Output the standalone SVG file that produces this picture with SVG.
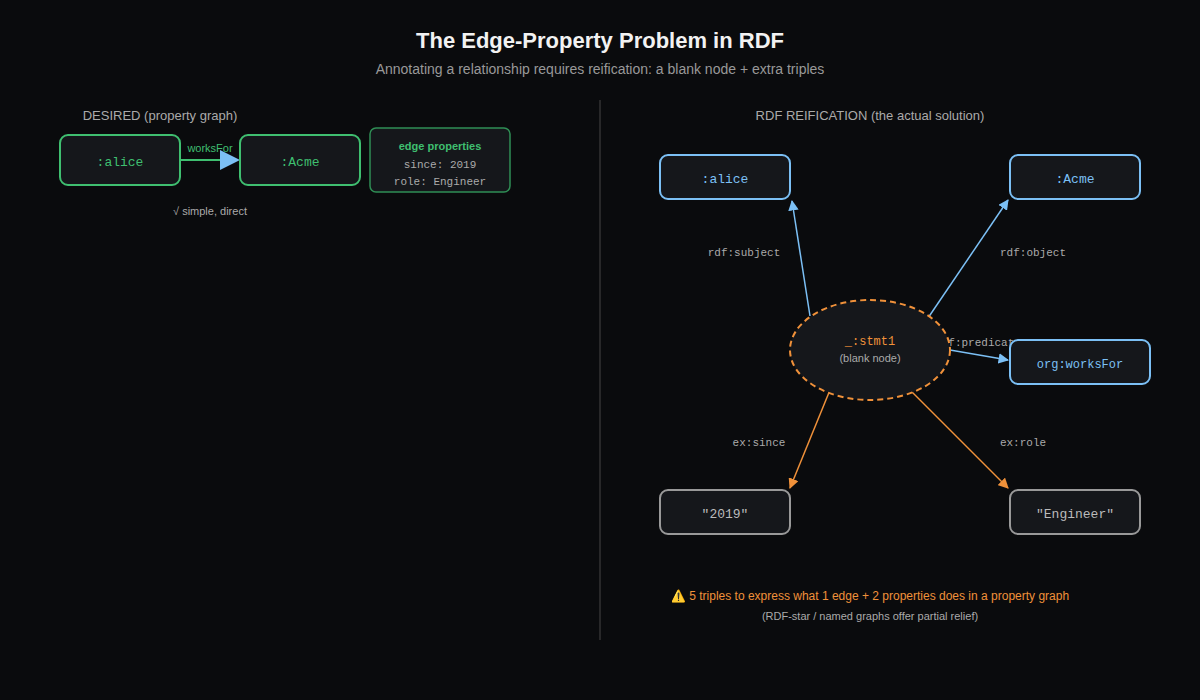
<svg xmlns="http://www.w3.org/2000/svg" width="1200" height="700" viewBox="0 0 1200 700">
<style>
.sans{font-family:"Liberation Sans",Arial,sans-serif}
.mono{font-family:"Liberation Mono","DejaVu Sans Mono",monospace}
.box{fill:#15171b;stroke-width:2}
.g{stroke:#3fbf70}.b{stroke:#7cc0f5}.w{stroke:#999}
.lbl{font-size:11px;fill:#aaa}
</style>
<defs>
<marker id="ab" viewBox="0 0 10 10" refX="9" refY="5" markerWidth="7" markerHeight="7" orient="auto"><path d="M0,0L10,5L0,10z" fill="#7cc0f5"/></marker>
<marker id="ab2" viewBox="0 0 10 10" refX="9" refY="5" markerWidth="10" markerHeight="10" orient="auto"><path d="M0,0L10,5L0,10z" fill="#7cc0f5"/></marker>
<marker id="ao" viewBox="0 0 10 10" refX="9" refY="5" markerWidth="7" markerHeight="7" orient="auto"><path d="M0,0L10,5L0,10z" fill="#f0913a"/></marker>
</defs>
<rect width="1200" height="700" fill="#0a0b0d"/>
<text x="600" y="48" text-anchor="middle" class="sans" font-size="22" font-weight="bold" fill="#f2f2f2">The Edge-Property Problem in RDF</text>
<text x="600" y="74" text-anchor="middle" class="sans" font-size="14" fill="#999">Annotating a relationship requires reification: a blank node + extra triples</text>
<line x1="600" y1="100" x2="600" y2="640" stroke="#333" stroke-width="1.5"/>
<text x="160" y="120" text-anchor="middle" class="sans" font-size="13" fill="#aaa">DESIRED (property graph)</text>
<text x="870" y="120" text-anchor="middle" class="sans" font-size="13" fill="#aaa">RDF REIFICATION (the actual solution)</text>
<g id="connectors">
<line x1="180" y1="160" x2="238" y2="160" stroke="#3fbf70" stroke-width="2" marker-end="url(#ab2)"/>
<text x="210" y="152" text-anchor="middle" class="sans" font-size="11" fill="#3fbf70">worksFor</text>
<line x1="810" y1="316" x2="792" y2="201" stroke="#7cc0f5" stroke-width="1.5" marker-end="url(#ab)"/>
<line x1="928" y1="318" x2="1008" y2="200" stroke="#7cc0f5" stroke-width="1.5" marker-end="url(#ab)"/>
<line x1="950" y1="350" x2="1008" y2="360" stroke="#7cc0f5" stroke-width="1.5" marker-end="url(#ab)"/>
<line x1="830" y1="390" x2="790" y2="488" stroke="#f0913a" stroke-width="1.5" marker-end="url(#ao)"/>
<line x1="910" y1="390" x2="1008" y2="488" stroke="#f0913a" stroke-width="1.5" marker-end="url(#ao)"/>
<text x="744" y="256" text-anchor="middle" class="mono lbl">rdf:subject</text>
<text x="1033" y="256" text-anchor="middle" class="mono lbl">rdf:object</text>
<text x="978" y="346" text-anchor="middle" class="mono lbl">rdf:predicate</text>
<text x="759" y="446" text-anchor="middle" class="mono lbl">ex:since</text>
<text x="1023" y="446" text-anchor="middle" class="mono lbl">ex:role</text>
</g>
<g id="pg-alice"><rect x="60" y="135" width="120" height="50" rx="8" class="box g"/><text x="120" y="166" text-anchor="middle" class="mono" font-size="13" fill="#3fbf70">:alice</text></g>
<g id="pg-acme"><rect x="240" y="135" width="120" height="50" rx="8" class="box g"/><text x="300" y="166" text-anchor="middle" class="mono" font-size="13" fill="#3fbf70">:Acme</text></g>
<g id="pg-props"><rect x="370" y="128" width="140" height="64" rx="6" fill="#15171b" stroke="#2f8f55" stroke-width="1.5"/>
<text x="440" y="150" text-anchor="middle" class="sans" font-size="11" font-weight="bold" fill="#3fbf70">edge properties</text>
<text x="440" y="168" text-anchor="middle" class="mono" font-size="11" fill="#aaa">since: 2019</text>
<text x="440" y="185" text-anchor="middle" class="mono" font-size="11" fill="#aaa">role: Engineer</text></g>
<text x="210" y="215" text-anchor="middle" class="sans" font-size="11" fill="#aaa">√ simple, direct</text>
<g id="alice"><rect x="660" y="155" width="130" height="44" rx="8" class="box b"/><text x="725" y="183" text-anchor="middle" class="mono" font-size="13" fill="#7cc0f5">:alice</text></g>
<g id="acme"><rect x="1010" y="155" width="130" height="44" rx="8" class="box b"/><text x="1075" y="183" text-anchor="middle" class="mono" font-size="13" fill="#7cc0f5">:Acme</text></g>
<g id="worksFor"><rect x="1010" y="340" width="140" height="44" rx="8" class="box b"/><text x="1080" y="368" text-anchor="middle" class="mono" font-size="12" fill="#7cc0f5">org:worksFor</text></g>
<g id="stmt"><ellipse cx="870" cy="350" rx="80" ry="50" fill="#15171b" stroke="#f0913a" stroke-width="2" stroke-dasharray="6,4"/>
<text x="870" y="345" text-anchor="middle" class="mono" font-size="12" fill="#f0913a">_:stmt1</text>
<text x="870" y="362" text-anchor="middle" class="sans" font-size="11" fill="#aaa">(blank node)</text></g>
<g id="y2019"><rect x="660" y="490" width="130" height="44" rx="8" class="box w"/><text x="725" y="518" text-anchor="middle" class="mono" font-size="13" fill="#bbb">"2019"</text></g>
<g id="engineer"><rect x="1010" y="490" width="130" height="44" rx="8" class="box w"/><text x="1075" y="518" text-anchor="middle" class="mono" font-size="13" fill="#bbb">"Engineer"</text></g>
<text x="870" y="600" text-anchor="middle" class="sans" font-size="12" fill="#f0913a">⚠️ 5 triples to express what 1 edge + 2 properties does in a property graph</text>
<text x="870" y="620" text-anchor="middle" class="sans" font-size="11" fill="#aaa">(RDF-star / named graphs offer partial relief)</text>
</svg>
